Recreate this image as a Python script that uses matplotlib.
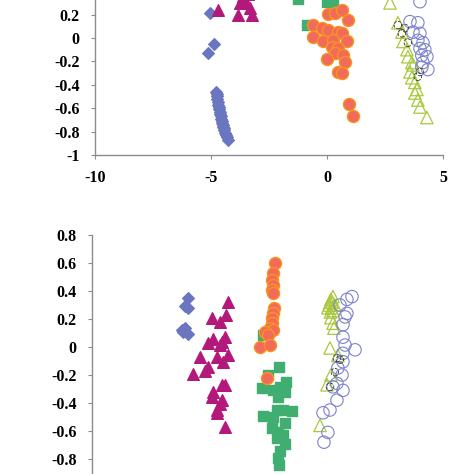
import matplotlib
matplotlib.use("Agg")
import matplotlib.pyplot as plt
from matplotlib.ticker import FuncFormatter, MultipleLocator, FixedLocator

plt.rcParams['font.family'] = ['Liberation Serif', 'DejaVu Serif']
plt.rcParams['axes.unicode_minus'] = False

# ---------------- top panel data ----------------
top_diamond_x = [-5.04, -4.87, -5.13, -4.78, -4.76, -4.74, -4.72, -4.70, -4.68, -4.66, -4.64,
                 -4.62, -4.60, -4.58, -4.56, -4.54, -4.52, -4.50, -4.48, -4.45, -4.42, -4.38,
                 -4.35, -4.31, -4.27]
top_diamond_y = [0.21, -0.05, -0.13, -0.46, -0.48, -0.50, -0.52, -0.55, -0.57, -0.59, -0.61,
                 -0.63, -0.65, -0.67, -0.69, -0.71, -0.73, -0.74, -0.76, -0.77, -0.79, -0.81,
                 -0.83, -0.85, -0.87]

top_tri_x = [-4.70, -3.75, -3.84, -3.23, -3.32, -3.53, -3.60, -3.40]
top_tri_y = [0.24, 0.30, 0.20, 0.20, 0.26, 0.31, 0.36, 0.38]

top_square_x = [-1.25, 0.00, 0.26, 0.10, -0.86]
top_square_y = [0.33, 0.31, 0.28, 0.34, 0.11]

top_circle_x = [0.04, 0.34, 0.65, 0.91, -0.60, -0.22, 0.04, 0.47, 0.65, -0.60, -0.17, 0.26,
                0.86, 0.22, 0.47, 0.34, 0.69, 0.00, 0.78, 0.47, 0.65, 0.95, 1.12]
top_circle_y = [0.205, 0.21, 0.24, 0.15, 0.11, 0.085, 0.07, 0.05, 0.04, 0.01, -0.03, -0.02,
                -0.03, -0.08, -0.085, -0.13, -0.145, -0.18, -0.205, -0.29, -0.30, -0.56, -0.67]

top_otri_x = [2.72, 3.06, 3.23, 3.28, 3.45, 3.49, 3.66, 3.71, 3.58, 3.66, 3.79, 3.88, 3.79,
              3.92, 4.01, 4.31]
top_otri_y = [0.30, 0.13, 0.05, -0.03, -0.10, -0.16, -0.21, -0.23, -0.29, -0.34, -0.38,
              -0.44, -0.47, -0.53, -0.59, -0.68]

top_ocirc_x = [4.01, 3.58, 3.92, 3.71, 4.01, 3.92, 4.14, 4.01, 4.22, 4.09, 4.31, 4.14, 4.35,
               4.09]
top_ocirc_y = [0.31, 0.14, 0.13, 0.05, 0.04, -0.02, -0.04, -0.09, -0.10, -0.15, -0.16,
               -0.21, -0.27, -0.25]

top_dark_x = [3.06, 3.23, 3.36, 3.49, 4.01, 3.92]
top_dark_y = [0.11, 0.04, 0.085, -0.04, -0.29, -0.33]

top_yticks = [-1, -0.8, -0.6, -0.4, -0.2, 0, 0.2]
top_xticks = [-10, -5, 0, 5]

# ---------------- bottom panel data ----------------
bot_diamond_x = [-5.86, -5.99, -5.86, -6.12, -5.99, -5.86, -6.08]
bot_diamond_y = [0.35, 0.29, 0.28, 0.12, 0.135, 0.09, 0.11]

bot_tri_x = [-4.14, -4.22, -4.83, -4.48, -4.27, -4.78, -4.40, -5.00, -4.48, -4.61, -5.34,
             -4.14, -4.35, -5.00, -5.13, -5.65, -4.40, -4.27, -4.78, -4.83, -4.40, -4.48,
             -4.61, -4.61, -4.27]
bot_tri_y = [0.32, 0.23, 0.21, 0.18, 0.07, 0.06, 0.035, 0.03, 0.015, -0.07, -0.07,
             -0.06, -0.11, -0.14, -0.17, -0.19, -0.27, -0.27, -0.32, -0.36, -0.38, -0.41,
             -0.45, -0.47, -0.57]

bot_square_x = [-2.63, -1.94, -2.41, -1.64, -2.67, -2.20, -1.90, -1.68, -1.98, -2.63, -2.03,
                -1.77, -1.38, -2.20, -1.68, -2.24, -1.98, -1.77, -2.03, -1.68, -1.90, -1.98,
                -1.94]
bot_square_y = [0.085, -0.14, -0.20, -0.25, -0.29, -0.31, -0.285, -0.32, -0.36, -0.49, -0.45,
                -0.45, -0.46, -0.50, -0.54, -0.58, -0.61, -0.63, -0.65, -0.69, -0.74, -0.79,
                -0.84]

bot_circle_x = [-2.11, -2.20, -2.24, -2.20, -2.24, -2.20, -2.16, -2.20, -2.24, -2.24, -2.33,
                -2.20, -2.54, -2.41, -2.76, -2.33, -2.46]
bot_circle_y = [0.60, 0.53, 0.48, 0.44, 0.41, 0.385, 0.28, 0.24, 0.21, 0.17, 0.135,
                0.12, 0.11, 0.085, 0.00, 0.015, -0.22]

bot_otri_x = [0.39, 0.26, 0.47, 0.17, 0.39, 0.30, 0.39, 0.43, 0.26, 0.60, 0.30, 0.13, -0.17,
              0.30, 0.35, 0.22, 0.33, 0.28]
bot_otri_y = [0.36, 0.32, 0.30, 0.28, 0.26, 0.21, 0.17, 0.135, -0.007, -0.06, -0.20, -0.27,
              -0.56, 0.34, 0.32, 0.30, 0.28, 0.25]

bot_ocirc_x = [1.21, 0.99, 0.69, 0.99, 0.91, 0.82, 0.82, 0.91, 1.34, 0.82, 0.82, 0.60, 0.78,
               0.56, 0.39, 0.82, 0.56, 0.26, -0.04, 0.17, 0.00]
bot_ocirc_y = [0.36, 0.34, 0.30, 0.24, 0.215, 0.16, 0.07, 0.014, -0.02, -0.045, -0.105,
               -0.15, -0.20, -0.26, -0.285, -0.31, -0.38, -0.45, -0.47, -0.61, -0.68]

bot_dark_x = [0.56, 0.47, 0.26, 0.69]
bot_dark_y = [-0.08, -0.18, -0.285, -0.09]

bot_yticks = [-0.8, -0.6, -0.4, -0.2, 0, 0.2, 0.4, 0.6, 0.8]

blue = '#6a76c0'
magenta = '#b3197b'
green = '#3fae70'
salmon = '#f26a5c'
orange = '#f7941d'
lime = '#a9c83c'
lav = '#7d83cc'


def style_axis(ax, ylo, yhi, yticks, xticks):
    for s in ['top', 'right']:
        ax.spines[s].set_visible(False)
    for s in ['left', 'bottom']:
        ax.spines[s].set_color('#8c8c8c')
        ax.spines[s].set_linewidth(1.0)
    ax.set_xlim(-10, 5)
    ax.set_ylim(ylo, yhi)
    ax.xaxis.set_major_locator(FixedLocator(xticks))
    ax.yaxis.set_major_locator(FixedLocator(yticks))
    ax.yaxis.set_major_formatter(FuncFormatter(lambda v, p: '%g' % round(v, 2)))
    ax.xaxis.set_major_formatter(FuncFormatter(lambda v, p: '%g' % v))
    ax.tick_params(direction='out', length=3, width=0.8, color='#8c8c8c',
                   labelsize=11.5, pad=8)


def draw(ax, d, t, sq, c, ot, oc, dk):
    ax.scatter(sq[0], sq[1], marker='s', s=55, color=green, zorder=3)
    ax.scatter(c[0], c[1], marker='o', s=75, facecolor=salmon, edgecolor=orange,
               linewidth=1.0, zorder=4)
    ax.scatter(d[0], d[1], marker='D', s=35, color=blue, zorder=3)
    ax.scatter(t[0], t[1], marker='^', s=70, color=magenta, zorder=3)
    ax.scatter(ot[0], ot[1], marker='^', s=80, facecolor='none', edgecolor=lime,
               linewidth=0.9, zorder=3)
    ax.scatter(oc[0], oc[1], marker='o', s=80, facecolor='none', edgecolor=lav,
               linewidth=0.8, zorder=3)
    ax.scatter(dk[0], dk[1], marker='o', s=30, facecolor='none', edgecolor='#333333',
               linewidth=0.6, linestyle='--', zorder=4)


fig = plt.figure(figsize=(4.74, 4.74), dpi=100)

ax1 = fig.add_axes([0.2004, 0.673, 0.734, 0.3456])
style_axis(ax1, -1, 0.4, top_yticks, top_xticks)
draw(ax1, (top_diamond_x, top_diamond_y), (top_tri_x, top_tri_y),
     (top_square_x, top_square_y), (top_circle_x, top_circle_y),
     (top_otri_x, top_otri_y), (top_ocirc_x, top_ocirc_y), (top_dark_x, top_dark_y))
for lab in ax1.get_xticklabels() + ax1.get_yticklabels():
    lab.set_fontweight('bold')

ax2 = fig.add_axes([0.1941, -0.0274, 0.734, 0.5316])
style_axis(ax2, -1, 0.8, bot_yticks, [])
draw(ax2, (bot_diamond_x, bot_diamond_y), (bot_tri_x, bot_tri_y),
     (bot_square_x, bot_square_y), (bot_circle_x, bot_circle_y),
     (bot_otri_x, bot_otri_y), (bot_ocirc_x, bot_ocirc_y), (bot_dark_x, bot_dark_y))
for lab in ax2.get_xticklabels() + ax2.get_yticklabels():
    lab.set_fontweight('bold')

fig.savefig("out.png", dpi=100)
